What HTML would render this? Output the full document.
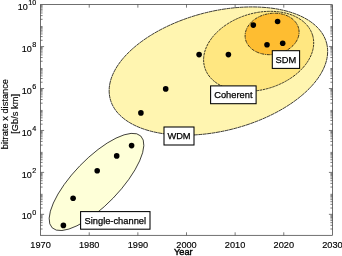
<!DOCTYPE html>
<html><head><meta charset="utf-8"><title>chart</title>
<style>
html,body{margin:0;padding:0;background:#fff;}
svg{display:block}
text{font-family:"Liberation Sans",Arial,Helvetica,sans-serif;fill:#000;stroke:#000;stroke-width:0.15px}
</style></head><body>
<svg width="342" height="256" viewBox="0 0 342 256">
<rect width="342" height="256" fill="#fff"/>
<ellipse cx="96.5" cy="181.95" rx="63.8" ry="23.2" transform="rotate(-46 96.5 181.95)" fill="#feffd8" stroke="#000" stroke-width="0.7" stroke-dasharray="none"/>
<ellipse cx="218.4" cy="71.06" rx="111.75" ry="59.67" transform="rotate(-14.4 218.4 71.06)" fill="#fff5b0" stroke="#000" stroke-width="0.7" stroke-dasharray="4 0.45"/>
<ellipse cx="258.65" cy="51.35" rx="56.3" ry="38.25" transform="rotate(-16.6 258.65 51.35)" fill="#ffe781" stroke="#000" stroke-width="0.7" stroke-dasharray="2.6 0.7"/>
<ellipse cx="272.1" cy="33.95" rx="27.15" ry="20.55" transform="rotate(-9.3 272.1 33.95)" fill="#febd31" stroke="#000" stroke-width="0.7" stroke-dasharray="3 0.7 1 0.7"/>
<circle cx="63.4" cy="225.4" r="2.8" fill="#000"/>
<circle cx="73.1" cy="198.2" r="2.8" fill="#000"/>
<circle cx="97.2" cy="170.8" r="2.8" fill="#000"/>
<circle cx="116.7" cy="155.9" r="2.8" fill="#000"/>
<circle cx="131.6" cy="145.6" r="2.8" fill="#000"/>
<circle cx="140.9" cy="112.9" r="2.8" fill="#000"/>
<circle cx="165.7" cy="88.9" r="2.8" fill="#000"/>
<circle cx="199.1" cy="54.6" r="2.8" fill="#000"/>
<circle cx="228.4" cy="54.6" r="2.8" fill="#000"/>
<circle cx="253.3" cy="25.1" r="2.8" fill="#000"/>
<circle cx="277.6" cy="21.5" r="2.8" fill="#000"/>
<circle cx="267" cy="44.8" r="2.8" fill="#000"/>
<circle cx="282.7" cy="43.3" r="2.8" fill="#000"/>
<rect x="40.6" y="4.65" width="291.80" height="230.65" fill="none" stroke="#333" stroke-width="0.7"/>
<path d="M89.23 235.3v-3 M89.23 4.65v3 M137.87 235.3v-3 M137.87 4.65v3 M186.50 235.3v-3 M186.50 4.65v3 M235.13 235.3v-3 M235.13 4.65v3 M283.77 235.3v-3 M283.77 4.65v3 M40.6 228.99h2 M332.4 228.99h-2 M40.6 225.30h2 M332.4 225.30h-2 M40.6 222.68h2 M332.4 222.68h-2 M40.6 220.64h2 M332.4 220.64h-2 M40.6 218.98h2 M332.4 218.98h-2 M40.6 217.58h2 M332.4 217.58h-2 M40.6 216.36h2 M332.4 216.36h-2 M40.6 215.29h2 M332.4 215.29h-2 M40.6 214.33h3.5 M332.4 214.33h-3.5 M40.6 208.02h2 M332.4 208.02h-2 M40.6 204.33h2 M332.4 204.33h-2 M40.6 201.71h2 M332.4 201.71h-2 M40.6 199.68h2 M332.4 199.68h-2 M40.6 198.02h2 M332.4 198.02h-2 M40.6 196.61h2 M332.4 196.61h-2 M40.6 195.40h2 M332.4 195.40h-2 M40.6 194.32h2 M332.4 194.32h-2 M40.6 187.05h2 M332.4 187.05h-2 M40.6 183.36h2 M332.4 183.36h-2 M40.6 180.74h2 M332.4 180.74h-2 M40.6 178.71h2 M332.4 178.71h-2 M40.6 177.05h2 M332.4 177.05h-2 M40.6 175.64h2 M332.4 175.64h-2 M40.6 174.43h2 M332.4 174.43h-2 M40.6 173.35h2 M332.4 173.35h-2 M40.6 172.40h3.5 M332.4 172.40h-3.5 M40.6 166.08h2 M332.4 166.08h-2 M40.6 162.39h2 M332.4 162.39h-2 M40.6 159.77h2 M332.4 159.77h-2 M40.6 157.74h2 M332.4 157.74h-2 M40.6 156.08h2 M332.4 156.08h-2 M40.6 154.68h2 M332.4 154.68h-2 M40.6 153.46h2 M332.4 153.46h-2 M40.6 152.39h2 M332.4 152.39h-2 M40.6 145.12h2 M332.4 145.12h-2 M40.6 141.42h2 M332.4 141.42h-2 M40.6 138.80h2 M332.4 138.80h-2 M40.6 136.77h2 M332.4 136.77h-2 M40.6 135.11h2 M332.4 135.11h-2 M40.6 133.71h2 M332.4 133.71h-2 M40.6 132.49h2 M332.4 132.49h-2 M40.6 131.42h2 M332.4 131.42h-2 M40.6 130.46h3.5 M332.4 130.46h-3.5 M40.6 124.15h2 M332.4 124.15h-2 M40.6 120.45h2 M332.4 120.45h-2 M40.6 117.83h2 M332.4 117.83h-2 M40.6 115.80h2 M332.4 115.80h-2 M40.6 114.14h2 M332.4 114.14h-2 M40.6 112.74h2 M332.4 112.74h-2 M40.6 111.52h2 M332.4 111.52h-2 M40.6 110.45h2 M332.4 110.45h-2 M40.6 103.18h2 M332.4 103.18h-2 M40.6 99.49h2 M332.4 99.49h-2 M40.6 96.87h2 M332.4 96.87h-2 M40.6 94.83h2 M332.4 94.83h-2 M40.6 93.17h2 M332.4 93.17h-2 M40.6 91.77h2 M332.4 91.77h-2 M40.6 90.55h2 M332.4 90.55h-2 M40.6 89.48h2 M332.4 89.48h-2 M40.6 88.52h3.5 M332.4 88.52h-3.5 M40.6 82.21h2 M332.4 82.21h-2 M40.6 78.52h2 M332.4 78.52h-2 M40.6 75.90h2 M332.4 75.90h-2 M40.6 73.87h2 M332.4 73.87h-2 M40.6 72.21h2 M332.4 72.21h-2 M40.6 70.80h2 M332.4 70.80h-2 M40.6 69.59h2 M332.4 69.59h-2 M40.6 68.51h2 M332.4 68.51h-2 M40.6 61.24h2 M332.4 61.24h-2 M40.6 57.55h2 M332.4 57.55h-2 M40.6 54.93h2 M332.4 54.93h-2 M40.6 52.90h2 M332.4 52.90h-2 M40.6 51.24h2 M332.4 51.24h-2 M40.6 49.83h2 M332.4 49.83h-2 M40.6 48.62h2 M332.4 48.62h-2 M40.6 47.55h2 M332.4 47.55h-2 M40.6 46.59h3.5 M332.4 46.59h-3.5 M40.6 40.27h2 M332.4 40.27h-2 M40.6 36.58h2 M332.4 36.58h-2 M40.6 33.96h2 M332.4 33.96h-2 M40.6 31.93h2 M332.4 31.93h-2 M40.6 30.27h2 M332.4 30.27h-2 M40.6 28.87h2 M332.4 28.87h-2 M40.6 27.65h2 M332.4 27.65h-2 M40.6 26.58h2 M332.4 26.58h-2 M40.6 19.31h2 M332.4 19.31h-2 M40.6 15.61h2 M332.4 15.61h-2 M40.6 12.99h2 M332.4 12.99h-2 M40.6 10.96h2 M332.4 10.96h-2 M40.6 9.30h2 M332.4 9.30h-2 M40.6 7.90h2 M332.4 7.90h-2 M40.6 6.68h2 M332.4 6.68h-2 M40.6 5.61h2 M332.4 5.61h-2" stroke="#333" stroke-width="0.65" fill="none"/>
<text x="40.6" y="247.5" font-size="9.2" text-anchor="middle">1970</text>
<text x="89.2" y="247.5" font-size="9.2" text-anchor="middle">1980</text>
<text x="137.9" y="247.5" font-size="9.2" text-anchor="middle">1990</text>
<text x="186.5" y="247.5" font-size="9.2" text-anchor="middle">2000</text>
<text x="235.1" y="247.5" font-size="9.2" text-anchor="middle">2010</text>
<text x="283.8" y="247.5" font-size="9.2" text-anchor="middle">2020</text>
<text x="332.4" y="247.5" font-size="9.2" text-anchor="middle">2030</text>
<text x="36.3" y="219.4" font-size="9" text-anchor="end">10<tspan dx="0.6" dy="-4.5" font-size="7.2">0</tspan></text>
<text x="36.3" y="177.5" font-size="9" text-anchor="end">10<tspan dx="0.6" dy="-4.5" font-size="7.2">2</tspan></text>
<text x="36.3" y="135.6" font-size="9" text-anchor="end">10<tspan dx="0.6" dy="-4.5" font-size="7.2">4</tspan></text>
<text x="36.3" y="93.6" font-size="9" text-anchor="end">10<tspan dx="0.6" dy="-4.5" font-size="7.2">6</tspan></text>
<text x="36.3" y="51.7" font-size="9" text-anchor="end">10<tspan dx="0.6" dy="-4.5" font-size="7.2">8</tspan></text>
<text x="36.3" y="9.8" font-size="9" text-anchor="end">10<tspan dx="0.6" dy="-4.5" font-size="7.2">10</tspan></text>
<text x="183.3" y="255.3" font-size="9.2" text-anchor="middle" style="stroke-width:0.4px">Year</text>
<text transform="translate(7.5 114.1) rotate(-90)" font-size="9.3" text-anchor="middle">bitrate x distance</text>
<text transform="translate(17.6 113.9) rotate(-90)" font-size="9.3" text-anchor="middle">[Gb/s km]</text>
<rect x="164" y="127" width="30.00" height="18.00" fill="#fff" stroke="#000" stroke-width="1.05"/>
<text x="179.00" y="139.4" font-size="9.3" text-anchor="middle" style="stroke-width:0.25px">WDM</text>
<rect x="210.6" y="85.9" width="45.50" height="17.80" fill="#fff" stroke="#000" stroke-width="1.05"/>
<text x="233.35" y="98.2" font-size="9.3" text-anchor="middle" style="stroke-width:0.25px">Coherent</text>
<rect x="272.3" y="50.7" width="27.30" height="17.70" fill="#fff" stroke="#000" stroke-width="1.05"/>
<text x="285.95" y="63.3" font-size="9.3" text-anchor="middle" style="stroke-width:0.25px">SDM</text>
<rect x="80.6" y="211.6" width="69.40" height="17.60" fill="#fff" stroke="#000" stroke-width="1.05"/>
<text x="115.30" y="224.2" font-size="9.3" text-anchor="middle" style="stroke-width:0.25px">Single-channel</text>
</svg></body></html>
